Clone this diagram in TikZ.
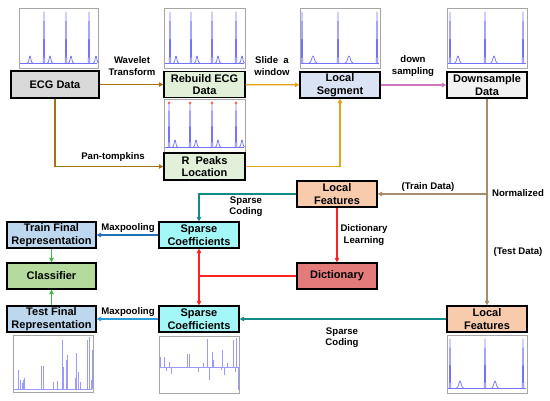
\documentclass[tikz,border=0pt]{standalone}
\usepackage{fontspec}
\setmainfont{Liberation Sans}
\usetikzlibrary{arrows.meta}
\definecolor{cbrown}{HTML}{A07414}
\definecolor{corange}{HTML}{E3A21A}
\definecolor{cpink}{HTML}{CC77BB}
\definecolor{ctan}{HTML}{A58C6C}
\definecolor{cteal}{HTML}{13898A}
\definecolor{cred}{HTML}{FF2222}
\definecolor{cblueA}{HTML}{2070B8}
\definecolor{cblueB}{HTML}{2A9BD8}
\definecolor{cgreen}{HTML}{44B844}
\definecolor{fgray}{HTML}{D9D9D9}
\definecolor{fgreen}{HTML}{E2F0D9}
\definecolor{fblue}{HTML}{DAE3F3}
\definecolor{flight}{HTML}{F2F2F2}
\definecolor{fpeach}{HTML}{F8CBAD}
\definecolor{fdict}{HTML}{E47B7B}
\definecolor{fcyan}{HTML}{A3F7F7}
\definecolor{ffinal}{HTML}{BDD7EE}
\definecolor{fclf}{HTML}{B5DA9E}
\definecolor{cwave}{HTML}{7373FF}
\definecolor{cbar}{HTML}{9A9AFF}
\definecolor{cframe}{HTML}{A6A6A6}
\tikzset{
  box/.style={draw=black, line width=1.2pt, rectangle, inner sep=0pt, align=center,
    minimum width=80pt, minimum height=26pt, font=\fontsize{11}{12.8}\selectfont\bfseries},
  lbl/.style={align=center, inner sep=0pt, font=\fontsize{9.6}{11.5}\selectfont\bfseries},
  conn/.style={line width=1.2pt, -{Triangle[length=4.5pt,width=4.5pt]}},
  plain/.style={line width=1.2pt},
  plotframe/.style={draw=cframe, line width=0.9pt},
  wave/.style={draw=cwave, line width=0.75pt, line join=round},
  bar/.style={draw=cbar, line width=0.8pt},
}
% #1 x0, #2 y0, #3 x1, #4 y1, #5 spikes, #6 bumps, #7 bump half-width
\newcommand{\ecgbox}[7]{%
  \draw[plotframe] (#1,#2) rectangle (#3,#4);
  \draw[wave] (#1+1,#4-5) -- (#3-1,#4-5);
  \foreach \p in {#5} {\draw[wave] (\p-0.7,#4-5) -- (\p,#2+4) -- (\p+0.7,#4-5);}
  \foreach \q in {#6} {\draw[wave] (\q-#7,#4-5) .. controls (\q-#7/3,#4-5) and (\q-#7/3,#4-12) .. (\q,#4-12)
      .. controls (\q+#7/3,#4-12) and (\q+#7/3,#4-5) .. (\q+#7,#4-5);}
}
\begin{document}
\begin{tikzpicture}[x=1pt,y=-1pt]
\useasboundingbox (0,0) rectangle (550,401);
% plots
\ecgbox{19}{8}{98}{68}{44,66,89}{30,50,71,96}{2.5}
\ecgbox{164}{8}{245}{68}{170,191,212,236}{176,197,218,242}{2.5}
\ecgbox{164}{99}{245}{152}{169,190,212,236}{175,196,218,242}{2.5}
\foreach \p in {169,190,212,236} {\fill[red!60] (\p,103) circle (1.5);}
\ecgbox{300}{8}{380}{68}{302,338,377}{313,349}{4}
\ecgbox{447}{8}{527}{68}{450,485,523}{458,494}{3.5}
\ecgbox{447}{335}{527}{393}{450,485,523}{460,495}{3.5}
% sparse plots
\draw[plotframe] (13,335) rectangle (93,392);
\draw[bar] (14,389) -- (92,389);
\foreach \x/\h in {13.6/370,18/370,20/380,22/383,23/380,24/378,41/366,43/366,53/382,57/381,62/340,63.5/367,66/360,67/355,75/378,76/353,78/372,80/382,87/340,89/337,91/380,92/350}
  {\draw[bar] (\x,389) -- (\x,\h);}
\draw[plotframe] (159,336) rectangle (239,393);
\draw[bar] (160,367) -- (238,367);
\foreach \x/\h in {160/357,164/357,166/371,169/362,171/374,187/354,189/354,198/372,203/363,207/339,209/380,212/352,213/360,221/370,222/350,224/375,227/363,233/340,235/372,236/338,238/390}
  {\draw[bar] (\x,367) -- (\x,\h);}
% nodes
\node[box, fill=fgray, minimum width=88pt, minimum height=27pt] (ecg) at (55,84.5) {ECG Data};
\node[box, fill=fgreen, minimum width=81pt] (rebuild) at (204.5,84.5) {Rebuild ECG\\Data};
\node[box, fill=fgreen, minimum width=81pt, minimum height=27pt] (rpeaks) at (204.5,166.5) {R\ \ Peaks\\Location};
\node[box, fill=fblue] (lseg) at (340,85) {Local\\Segment};
\node[box, fill=flight] (down) at (487,85) {Downsample\\Data};
\node[box, fill=fpeach] (lftrain) at (337,194) {Local\\Features};
\node[box, fill=fdict] (dict) at (337,276) {Dictionary};
\node[box, fill=fpeach] (lftest) at (487,319) {Local\\Features};
\node[box, fill=fcyan] (sptop) at (199,235) {Sparse\\Coefficients};
\node[box, fill=fcyan] (spbot) at (199,319) {Sparse\\Coefficients};
\node[box, fill=ffinal, minimum width=89pt] (trainf) at (51.5,235) {Train Final\\Representation};
\node[box, fill=fclf, minimum width=89pt] (clf) at (51.5,276) {Classifier};
\node[box, fill=ffinal, minimum width=89pt] (testf) at (51.5,319) {Test Final\\Representation};
% connectors
\draw[conn, cbrown] (ecg) -- (rebuild);
\draw[conn, cbrown] (ecg.south) |- (rpeaks.west);
\draw[conn, corange] (rebuild) -- (lseg);
\draw[conn, corange] (rpeaks.east) -| (lseg.south);
\draw[conn, cpink] (lseg) -- (down);
\draw[conn, ctan] (down.south) |- (lftrain.east);
\draw[conn, ctan] (down.south) -- (lftest.north);
\draw[conn, cteal] (lftrain.west) -| (sptop.north);
\draw[conn, cred] (lftrain) -- (dict);
\coordinate (j) at (dict.west -| sptop.south);
\draw[plain, cred] (dict.west) -- (j);
\draw[conn, cred] (j) -- (sptop.south);
\draw[conn, cred] (j) -- (spbot.north);
\draw[conn, cteal] (lftest.west) -- (spbot.east);
\draw[conn, cblueA] (sptop.west) -- (trainf.east);
\draw[conn, cblueB] (spbot.west) -- (testf.east);
\draw[conn, cgreen] (trainf.south) -- (clf.north);
\draw[conn, cgreen] (testf.north) -- (clf.south);
% labels
\node[lbl] (l1) at (132,66) {Wavelet\\Transform};
\node[lbl] (l2) at (272,66) {Slide\ \ a\\window};
\node[lbl] (l3) at (413,66) {down\\sampling};
\node[lbl] (l4) at (113,157) {Pan-tompkins};
\node[lbl] (l5) at (428,187) {(Train Data)};
\node[lbl] (l6) at (518,193) {Normalized};
\node[lbl] (l7) at (518,252) {(Test Data)};
\node[lbl] (l8) at (246,206.5) {Sparse\\Coding};
\node[lbl] (l9) at (364,235) {Dictionary\\Learning};
\node[lbl] (l10) at (342,337.5) {Sparse\\Coding};
\node[lbl] (l11) at (128,228) {Maxpooling};
\node[lbl] (l12) at (128,312) {Maxpooling};
\end{tikzpicture}
\end{document}
